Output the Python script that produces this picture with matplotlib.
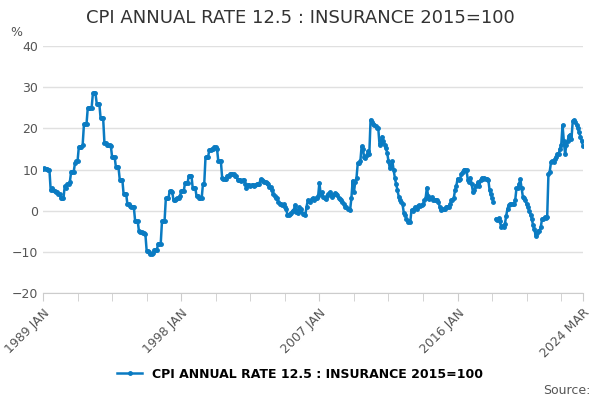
import matplotlib
matplotlib.use("Agg")
import matplotlib.pyplot as plt
import numpy as np
import pandas as pd

nan = np.nan
years = {
1989: [10.2,10.3,10.2,10.1,10,10,5,5.5,5,4.8,4.5,4.5],
1990: [4,4,3,3,3,6,5.5,6.5,6.5,7,9.5,9.5],
1991: [9.5,11.5,12,12,15.5,15.5,15.5,16,21,21,21,25],
1992: [25,25,25,28.5,28.5,28.5,26,26,26,22.5,22.5,22.5],
1993: [16.5,16.5,16,16,16,15.8,13,13,13,10.5,10.5,10.5],
1994: [7.5,7.5,7.5,4,4,4,1.5,1.5,1.2,1,1,0.8],
1995: [-2.5,-2.5,-2.5,-5,-5.3,-5.3,-5.5,-5.5,-5.7,-9.7,-9.7,-10],
1996: [-10.5,-10.5,-10.3,-9.5,-9.5,-9.5,-8,-8,-8,-2.5,-2.5,-2.5],
1997: [3,3,3,4.7,4.7,4.5,2.5,2.5,2.8,3,3,3.5],
1998: [4.7,4.7,4.7,6.8,6.8,6.8,8.5,8.5,8.5,5.5,5.5,5.5],
1999: [3.5,3.5,3,3,3,6.5,6.5,13,13,13,14.8,14.8],
2000: [15,15,15.5,15.5,15,12,12,12,8,7.8,7.8,7.8],
2001: [8.5,8.5,8.8,8.8,8.8,8.8,8.5,8.5,7.5,7.5,7.5,7.3],
2002: [7.4,7.4,6.5,5.4,6.2,6.2,6,6.2,6.2,6,6.2,6.5],
2003: [6.5,6.5,7.6,7.5,7.3,7,7,6.8,6.5,5.7,5.7,5],
2004: [4,3.5,3,3,2,1.5,1.5,1.4,1.5,1,0.5,-1],
2005: [-1.1,-0.8,-0.5,0,0.2,1.4,-0.3,-0.5,0.8,0,0.5,-0.8],
2006: [-0.8,-1,1,2.6,2.3,2.2,2.8,3,2.5,3,3,3.5],
2007: [6.8,4,4.5,3.3,3,2.8,3.5,4,4.5,3.8,3.2,3.8],
2008: [4.2,4,3.8,3,2.8,2.5,2,1.5,1,0.8,0.5,0.3],
2009: [0.2,3,7.3,4.5,7,8,11.6,11.5,12,15.6,15,13],
2010: [12.8,13.5,14.4,13.8,22.1,21.5,21,20.8,20.5,20,20,16],
2011: [16.5,18,17,16,15.2,14,12,10.4,11,12,10,7.9],
2012: [6.5,5,3.4,2.5,2,1.5,-0.6,-1,-2,-2.7,-2.5,-2.7],
2013: [0.2,0,0.5,0.8,0.5,1.1,1.3,1.2,1.3,1.5,2.5,3],
2014: [5.6,3.5,2.9,3,3.2,2.5,2.5,2.7,2.5,2.2,1,0.1],
2015: [0.5,0.3,0.5,0.9,0.8,1,1.5,2.5,2.7,3,5,6],
2016: [7.8,7.5,7.8,9,9.5,10,10,9.8,7.4,7,8,6.5],
2017: [4.5,5,6,6.2,7,6,7.5,8,7.8,8,7.8,7.8],
2018: [7.5,5,4,3,2.1,nan,-2,-2.2,-1.8,-2.5,-4,-3.8],
2019: [-4,-3.2,-1.2,0.5,1.3,1.5,1.5,1.7,1.6,2.5,5.4,5.5],
2020: [6.5,7.6,5.5,3.4,3,2.5,1.5,0.9,0,-1,-2,-3.6],
2021: [-4.5,-6.1,-5.5,-5,-4.9,-4,-2,-2,-1.6,-1.8,-1.6,8.9],
2022: [9.5,11.8,12,11.8,12.5,13,13.8,13.8,15,16,20.8,17],
2023: [13.8,16,17,18.2,18.5,17.5,21.8,22,21.5,20.8,20,19],
2024: [18,17,15.7],
}
values = [v for y in sorted(years) for v in years[y]]
dates = pd.date_range("1989-01-01", periods=len(values), freq="MS")
label_dates = ["1989-01", "1998-01", "2007-01", "2016-01", "2024-03"]
label_texts = ["1989 JAN", "1998 JAN", "2007 JAN", "2016 JAN", "2024 MAR"]

color = "#0a7bc2"
fig = plt.figure(figsize=(6, 4), dpi=100)
ax = fig.add_axes([43/600, 1-293/400, 540/600, 247/400])
x = np.arange(len(values))
ax.plot(x, values, color=color, lw=1.8, marker="o", ms=2.5,
        label="CPI ANNUAL RATE 12.5 : INSURANCE 2015=100")
ax.set_xlim(0, len(values)-1)
ax.set_ylim(-20, 40)
ax.set_yticks(range(-20, 41, 10))
ax.grid(axis="y", color="#e0e0e0", lw=1)
ax.set_axisbelow(True)
for s in ["top", "right", "left"]:
    ax.spines[s].set_visible(False)
ax.spines["bottom"].set_color("#cccccc")
ax.tick_params(axis="y", length=0, labelsize=9, colors="#555555")
pos = [list(dates.strftime("%Y-%m")).index(d) for d in label_dates]
ax.set_xticks(pos)
ax.set_xticklabels(label_texts, rotation=45, ha="right", rotation_mode="anchor",
                   fontsize=9, color="#555555")
ax.set_xticks(np.arange(0, len(values), 27), minor=True)
ax.tick_params(axis="x", which="both", length=6, color="#cccccc")
fig.text(0.5, 0.955, "CPI ANNUAL RATE 12.5 : INSURANCE 2015=100", ha="center",
         va="center", fontsize=13, color="#333333")
fig.text(10/600, 1-32/400, "%", fontsize=9, color="#555555", va="center")
fig.legend(loc="center", bbox_to_anchor=(0.5, 1-374/400), frameon=False,
           fontsize=9, handlelength=2, prop={"weight": "bold", "size": 9})
fig.text(590/600, 1-390/400, "Source:", ha="right", va="center", fontsize=9,
         color="#555555")
fig.savefig("out.png", dpi=100)
